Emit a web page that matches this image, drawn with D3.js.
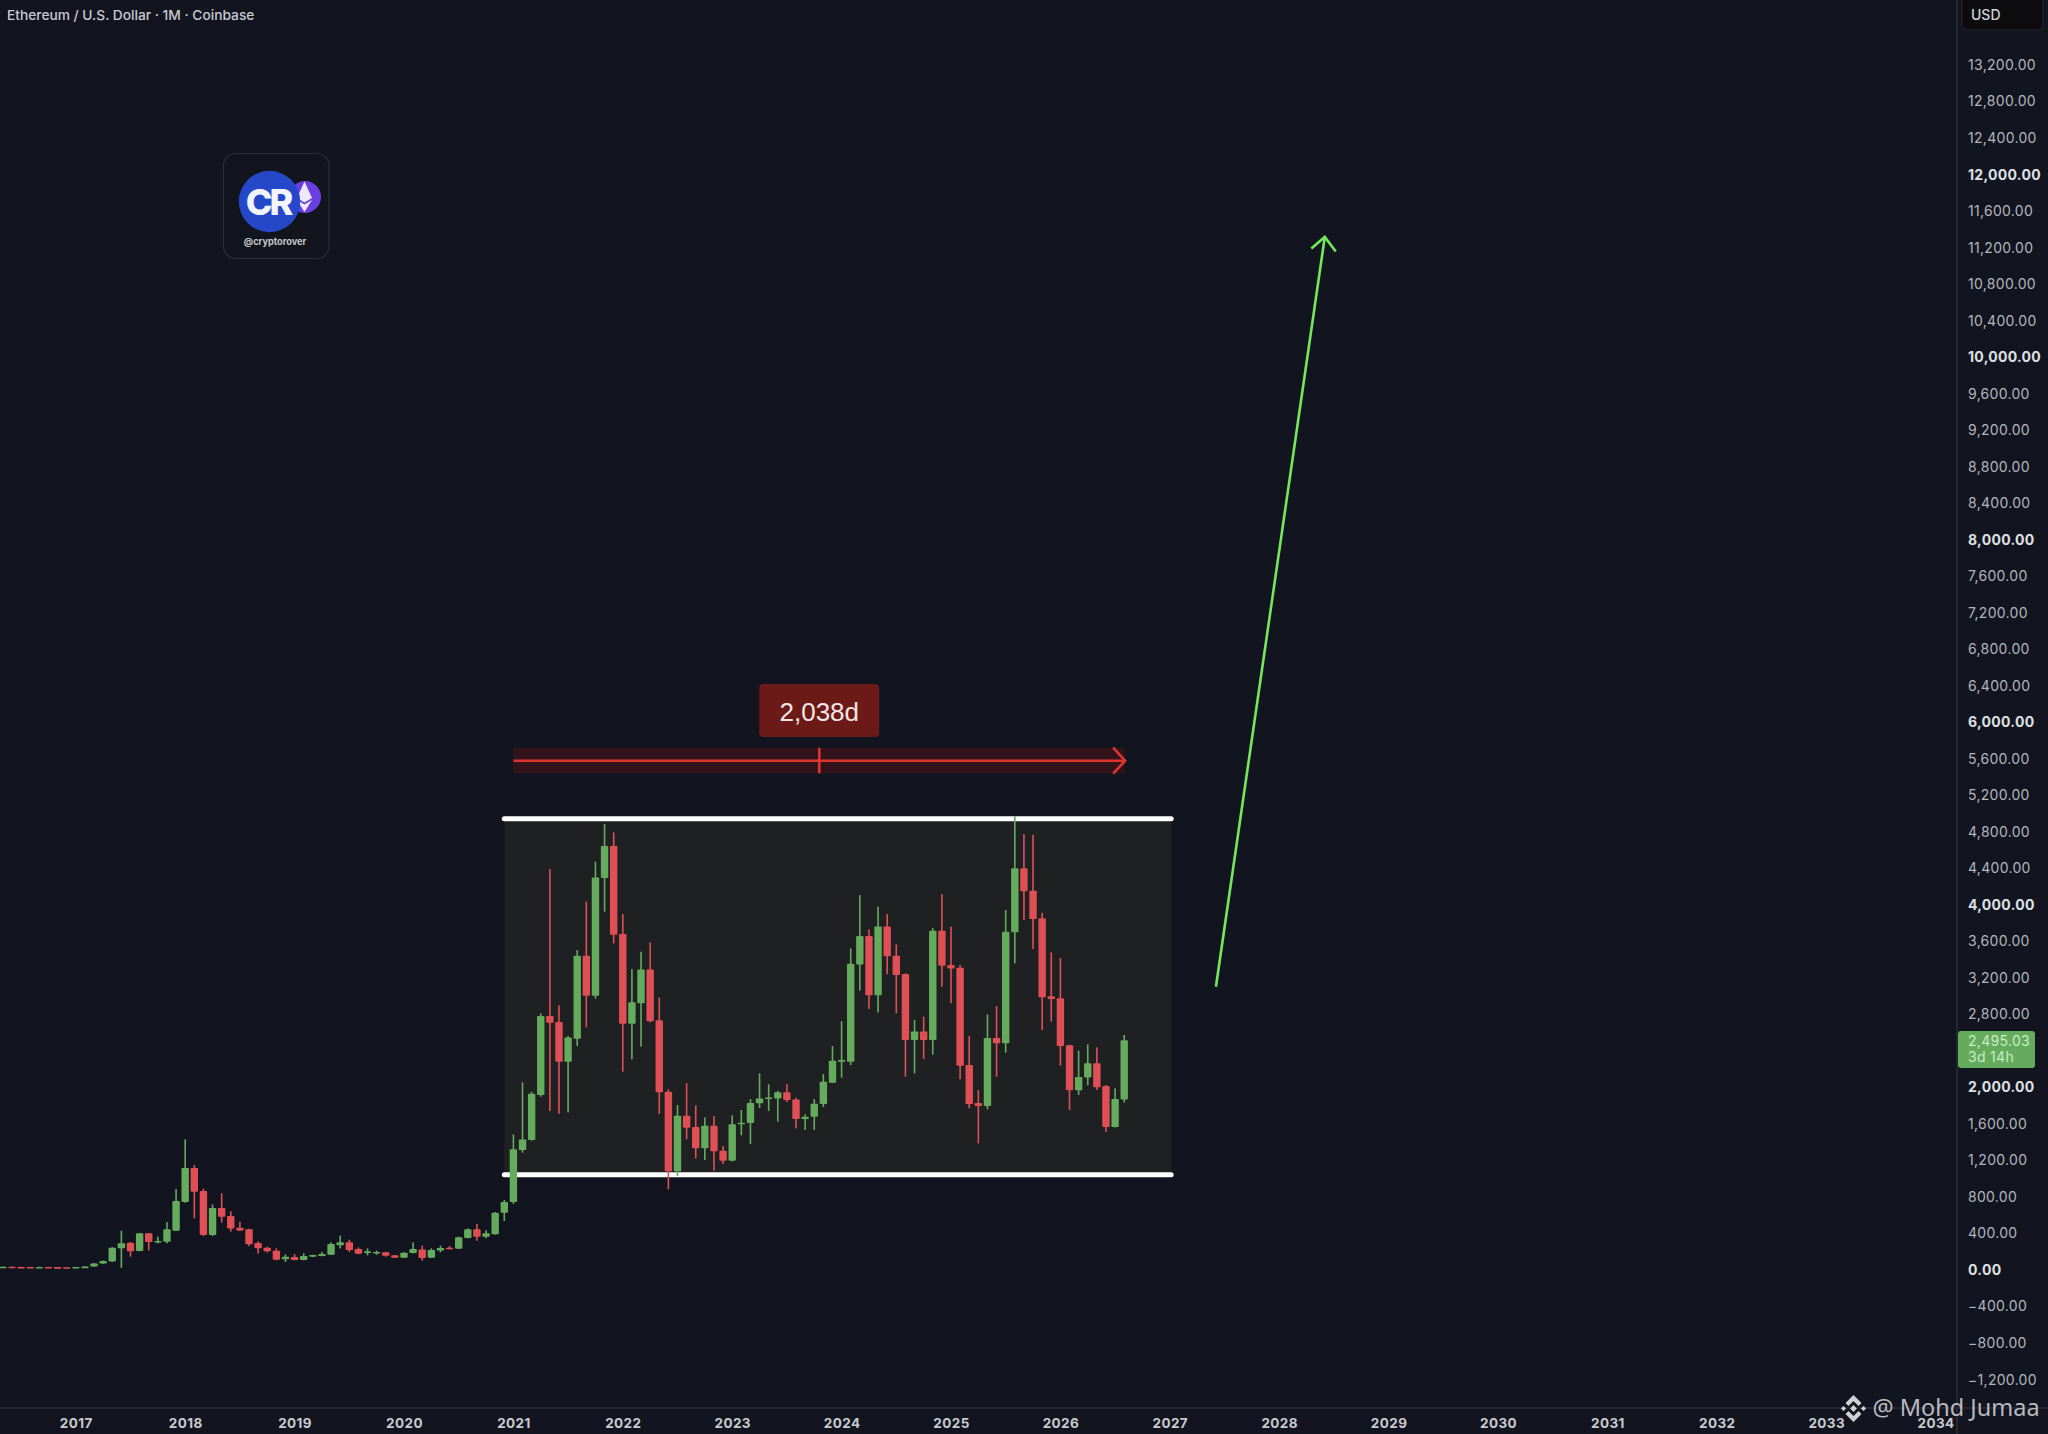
<!DOCTYPE html>
<html>
<head>
<meta charset="utf-8">
<title>Ethereum / U.S. Dollar</title>
<script src="https://cdn.jsdelivr.net/npm/d3@7"></script>
<style>
  html, body { margin: 0; padding: 0; background: #121520; }
  svg { display: block; }
  text { font-family: Inter, "Noto Sans", sans-serif; }
</style>
</head>
<body>
<svg id="the-svg" width="2048" height="1434"></svg>
<script>
// one row per year, 2016 starts in May and 2026 stops in August
var opens = [
  10,14,12,11,10,11,10,9,
  8,11,17,50,70,215,277,186,380,285,288,409,
  723,1095,843,361,657,570,442,424,274,223,190,95,
  120,88,131,131,146,248,281,208,168,164,172,139,
  113,164,204,113,193,223,212,329,424,343,369,606,
  723,1292,1402,1895,2760,2694,2260,2512,3421,2983,4272,4622,
  3658,2676,2899,3271,2713,1931,1059,1669,1544,1311,1559,1285,
  1176,1574,1588,1804,1858,1858,1924,1847,1632,1658,1796,2030,
  2260,2260,3326,3636,2987,3742,3421,3220,2497,2592,2497,3695,
  3319,3290,2223,1807,1774,2519,2461,3677,4378,4133,3830,2976,
  2954,2439,1946,2088,2242,1993,1544,1847
];
var closes = [
  14,12,11,10,12,10,9,8,
  11,16,50,78,223,270,183,380,285,296,424,734,
  1095,836,361,657,562,434,412,259,215,183,91,124,
  88,131,142,153,263,281,197,157,183,175,135,113,
  168,208,110,197,219,212,336,424,343,380,606,723,
  1300,1409,1909,2760,2687,2260,2526,3421,2983,4279,4622,3651,
  2676,2910,3271,2702,1924,1059,1669,1537,1311,1559,1278,1176,
  1574,1592,1807,1858,1869,1924,1840,1632,1658,1800,2041,2271,
  2278,3333,3636,2987,3742,3414,3209,2497,2592,2497,3695,3311,
  3282,2216,1796,1774,2519,2461,3684,4378,4126,3823,2965,2946,
  2432,1946,2092,2242,1979,1544,1851,2495.03
];
var highs = [
  16,15,14,12,14,12,11,10,
  12,18,55,82,228,409,285,382,382,343,504,865,
  1409,1128,869,697,818,621,507,430,292,234,215,150,
  153,161,145,175,281,354,310,226,215,190,175,142,
  172,281,245,215,245,241,343,434,482,413,613,745,
  1464,2034,1931,2789,4370,2877,2541,3483,4012,4451,4863,4772,
  3877,3275,3465,3567,2961,1957,1785,2023,1782,1650,1665,1336,
  1672,1731,1851,2132,2012,1939,2015,1866,1683,1851,2125,2432,
  2705,3501,4085,3709,3958,3877,3545,3227,2716,2753,3724,4096,
  3739,3319,2541,1950,2778,2870,3921,4951,4754,4746,3892,3458,
  3395,2445,2380,2450,2417,2004,1968,2552
];
var lows = [
  8,11,10,9,9,9,8,7,
  7,10,15,47,68,1,124,183,190,270,270,405,
  715,544,350,350,497,398,405,241,157,170,85,66,
  85,85,120,128,143,215,175,150,139,146,124,110,
  110,160,80,110,172,204,212,325,299,325,365,515,
  701,1263,1395,1877,1720,1687,1705,2432,2636,2950,3903,3556,
  2150,2286,2424,2690,1687,862,1008,1409,1201,1183,1066,1139,
  1170,1453,1358,1752,1720,1603,1818,1530,1512,1512,1763,2025,
  2085,2223,3038,2837,2800,3217,2789,2096,2132,2289,2337,3081,
  2899,2066,1749,1365,1738,2096,2359,3337,3812,3494,2607,2698,
  2216,1731,1895,2001,1950,1490,1540,1811
];
var years = [2017,2018,2019,2020,2021,2022,2023,2024,2025,2026,2027,2028,2029,2030,2031,2032,2033,2034];
var priceTicks = [-1200,-800,-400,0,400,800,1200,1600,2000,2400,2800,3200,3600,4000,4400,4800,5200,5600,6000,6400,6800,7200,7600,8000,8400,8800,9200,9600,10000,10400,10800,11200,11600,12000,12400,12800,13200];
// 2,400 sits behind the price tag on the original
var hiddenTicks = [2400];
var boldTicks = [0,2000,4000,6000,8000,10000,12000];

// annotations, in months after Jan 2017 and in dollars
var rangeMonths = [47, 120.15];
var rangePrices = [1022, 4922];
var rulerMonths = [48, 115.1];
var rulerPrice = 5557;
var rulerBand = [5420, 5699];
var rulerLabel = "2,038d";
var arrowMonths = [125.06, 137];
var arrowPrices = [3081, 11294];
var lastPrice = "2,495.03";
var countdown = "3d 14h";

var GREEN = "#65ab5e", RED = "#e04f55";
var FIRST_MONTH = -8;

var theSvg = d3.select("#the-svg");

var x = d3.scaleLinear().domain([0, 204]).range([75.8, 1935.6]);
var y = d3.scaleLinear().domain([0, 13200]).range([1268, 63]);

var candles = opens.map(function(o, i) {
    return {month: FIRST_MONTH + i, open: o, close: closes[i], high: highs[i], low: lows[i]};
});

theSvg.append("rect").attr("width", 2048).attr("height", 1434).attr("fill", "#121520");

// shaded range and its two white lines, candles go on top
theSvg.append("rect")
    .attr("x", x(rangeMonths[0]))
    .attr("y", y(rangePrices[1]))
    .attr("width", x(rangeMonths[1]) - x(rangeMonths[0]))
    .attr("height", y(rangePrices[0]) - y(rangePrices[1]))
    .attr("fill", "#1f2022");
theSvg.selectAll(".range-line").data(rangePrices).enter().append("line")
    .attr("class", "range-line")
    .attr("x1", x(rangeMonths[0]))
    .attr("x2", x(rangeMonths[1]))
    .attr("y1", function(d) { return y(d); })
    .attr("y2", function(d) { return y(d); })
    .attr("stroke", "#ffffff")
    .attr("stroke-width", 5)
    .attr("stroke-linecap", "round");

// candles
var candleGroup = theSvg.selectAll(".candle").data(candles).enter().append("g")
    .attr("class", "candle")
    .attr("fill", function(d) { return d.close >= d.open ? GREEN : RED; });
candleGroup.append("rect")
    .attr("x", function(d) { return x(d.month) - 0.8; })
    .attr("width", 1.6)
    .attr("y", function(d) { return y(d.high); })
    .attr("height", function(d) { return y(d.low) - y(d.high); });
candleGroup.append("rect")
    .attr("x", function(d) { return x(d.month) - 3.7; })
    .attr("width", 7.4)
    .attr("rx", 0.8)
    .attr("y", function(d) { return y(Math.max(d.open, d.close)); })
    .attr("height", function(d) { return Math.max(1.6, Math.abs(y(d.open) - y(d.close))); });

// date range ruler
var rulerMid = (rulerMonths[0] + rulerMonths[1]) / 2;
theSvg.append("rect")
    .attr("x", x(rulerMonths[0]))
    .attr("y", y(rulerBand[1]))
    .attr("width", x(rulerMonths[1]) - x(rulerMonths[0]))
    .attr("height", y(rulerBand[0]) - y(rulerBand[1]))
    .attr("fill", "#33131b");
theSvg.append("line")
    .attr("x1", x(rulerMonths[0])).attr("x2", x(rulerMonths[1]))
    .attr("y1", y(rulerPrice)).attr("y2", y(rulerPrice))
    .attr("stroke", "#e0352f").attr("stroke-width", 2.6);
theSvg.append("line")
    .attr("x1", x(rulerMid)).attr("x2", x(rulerMid))
    .attr("y1", y(rulerBand[0])).attr("y2", y(rulerBand[1]))
    .attr("stroke", "#e0352f").attr("stroke-width", 2.6);
theSvg.append("path")
    .attr("d", d3.line()([
        [x(rulerMonths[1]) - 12, y(rulerPrice) - 13],
        [x(rulerMonths[1]), y(rulerPrice)],
        [x(rulerMonths[1]) - 12, y(rulerPrice) + 13]
    ]))
    .attr("fill", "none").attr("stroke", "#e0352f").attr("stroke-width", 2.6);
theSvg.append("rect")
    .attr("x", x(rulerMid) - 60).attr("y", 684)
    .attr("width", 120).attr("height", 53)
    .attr("rx", 4).attr("fill", "#6b1a18");
theSvg.append("text")
    .attr("x", x(rulerMid)).attr("y", 721)
    .attr("text-anchor", "middle")
    .attr("fill", "#f5e6e4")
    .style("font-family", "'Liberation Sans', Arial, sans-serif")
    .style("font-size", "26px")
    .text(rulerLabel);

// green arrow
var tipX = x(arrowMonths[1]), tipY = y(arrowPrices[1]);
theSvg.append("line")
    .attr("x1", x(arrowMonths[0])).attr("y1", y(arrowPrices[0]))
    .attr("x2", tipX).attr("y2", tipY)
    .attr("stroke", "#74e85a").attr("stroke-width", 2.6);
theSvg.append("path")
    .attr("d", d3.line()([[tipX - 13.5, tipY + 11.5], [tipX, tipY], [tipX + 11, tipY + 14.5]]))
    .attr("fill", "none").attr("stroke", "#74e85a").attr("stroke-width", 2.6);

// axes lines
theSvg.append("line").attr("x1", 0).attr("x2", 2048).attr("y1", 1408).attr("y2", 1408).attr("stroke", "#363a45");
theSvg.append("line").attr("x1", 1957).attr("x2", 1957).attr("y1", 0).attr("y2", 1434).attr("stroke", "#363a45");

// time axis
var xAxis = theSvg.append("g")
    .attr("transform", "translate(0,1408)")
    .call(d3.axisBottom(x)
        .tickValues(years.map(function(d) { return (d - 2017) * 12; }))
        .tickSize(0)
        .tickFormat(function(d) { return 2017 + d / 12; }));
xAxis.select(".domain").remove();
xAxis.selectAll("text")
    .attr("y", 10.4)
    .attr("fill", "#c8cace")
    .style("font-size", "13.5px")
    .style("font-weight", 700)
    .style("letter-spacing", "0.4px");

// price axis
var yAxis = theSvg.append("g")
    .attr("transform", "translate(1968,2)")
    .call(d3.axisRight(y)
        .tickValues(priceTicks.filter(function(d) { return hiddenTicks.indexOf(d) < 0; }))
        .tickSize(0)
        .tickPadding(0)
        .tickFormat(d3.format(",.2f")));
yAxis.select(".domain").remove();
yAxis.selectAll("text")
    .attr("fill", function(d) { return boldTicks.indexOf(d) >= 0 ? "#dfe0e3" : "#b2b5bc"; })
    .style("font-size", "14px")
    .style("font-weight", function(d) { return boldTicks.indexOf(d) >= 0 ? 700 : 400; })
    .style("letter-spacing", "0.3px");

// last price tag
theSvg.append("rect")
    .attr("x", 1958).attr("y", 1031)
    .attr("width", 77).attr("height", 37)
    .attr("rx", 3).attr("fill", "#65ab5e");
theSvg.append("text").attr("x", 1968).attr("y", 1046)
    .attr("fill", "#c8ecc4").style("font-size", "14px").style("letter-spacing", "0.3px")
    .text(lastPrice);
theSvg.append("text").attr("x", 1968).attr("y", 1062)
    .attr("fill", "#c8ecc4").style("font-size", "14px").style("letter-spacing", "0.3px")
    .text(countdown);

// currency box
theSvg.append("rect")
    .attr("x", 1962).attr("y", -6)
    .attr("width", 81).attr("height", 36)
    .attr("rx", 5).attr("fill", "#0c0c0f").attr("stroke", "#23262e");
theSvg.append("text").attr("x", 1971).attr("y", 19.5)
    .attr("fill", "#d0d2d6").style("font-size", "14px").style("font-weight", 500)
    .text("USD");

// title
theSvg.append("text").attr("x", 7).attr("y", 20)
    .attr("fill", "#c8cad0").style("font-size", "13.75px").style("font-weight", 500)
    .text("Ethereum / U.S. Dollar \u00b7 1M \u00b7 Coinbase");

// logo
var logo = theSvg.append("g");
logo.append("rect")
    .attr("x", 223.5).attr("y", 153.5)
    .attr("width", 105.5).attr("height", 105)
    .attr("rx", 12).attr("fill", "#12151d").attr("stroke", "#2b2e38").attr("stroke-width", 1.2);
logo.append("circle").attr("cx", 305).attr("cy", 197).attr("r", 16).attr("fill", "#6a3ee0");
logo.append("path")
    .attr("d", "M304.5 181.5L312 198L304.5 202.5L297 198ZM297 200L304.5 204.5L312 200L304.5 212Z")
    .attr("fill", "#efe8fb");
logo.append("circle").attr("cx", 269.5).attr("cy", 201.5).attr("r", 30.7).attr("fill", "#2548c9");
logo.append("text")
    .attr("x", 268).attr("y", 214.5)
    .attr("text-anchor", "middle")
    .attr("fill", "#f2f4fb")
    .style("font-size", "36px").style("font-weight", 800).style("letter-spacing", "-3px")
    .text("CR");
logo.append("text")
    .attr("x", 275).attr("y", 245)
    .attr("text-anchor", "middle")
    .attr("fill", "#c6c8cc")
    .style("font-size", "9.2px").style("font-weight", 700)
    .text("@cryptorover");

// watermark
var mark = theSvg.append("g").attr("transform", "translate(1853.5,1408.5)").attr("fill", "#d0d2d6");
[[0, 0, 3.4], [-10, 0, 2.6], [10, 0, 2.6]].forEach(function(d) {
    mark.append("path")
        .attr("d", "M" + (d[0] - d[2]) + " " + d[1] + "L" + d[0] + " " + (d[1] - d[2]) + "L" + (d[0] + d[2]) + " " + d[1] + "L" + d[0] + " " + (d[1] + d[2]) + "Z");
});
mark.append("path").attr("d", "M0 -13.5L8 -5.5L5 -2.5L0 -7.5L-5 -2.5L-8 -5.5Z");
mark.append("path").attr("d", "M0 13.5L8 5.5L5 2.5L0 7.5L-5 2.5L-8 5.5Z");
theSvg.append("text").attr("x", 1872.5).attr("y", 1416)
    .attr("fill", "#b8babf")
    .style("font-family", "'Noto Sans', sans-serif")
    .style("font-size", "23.5px")
    .text("@ Mohd Jumaa");
</script>
</body>
</html>
